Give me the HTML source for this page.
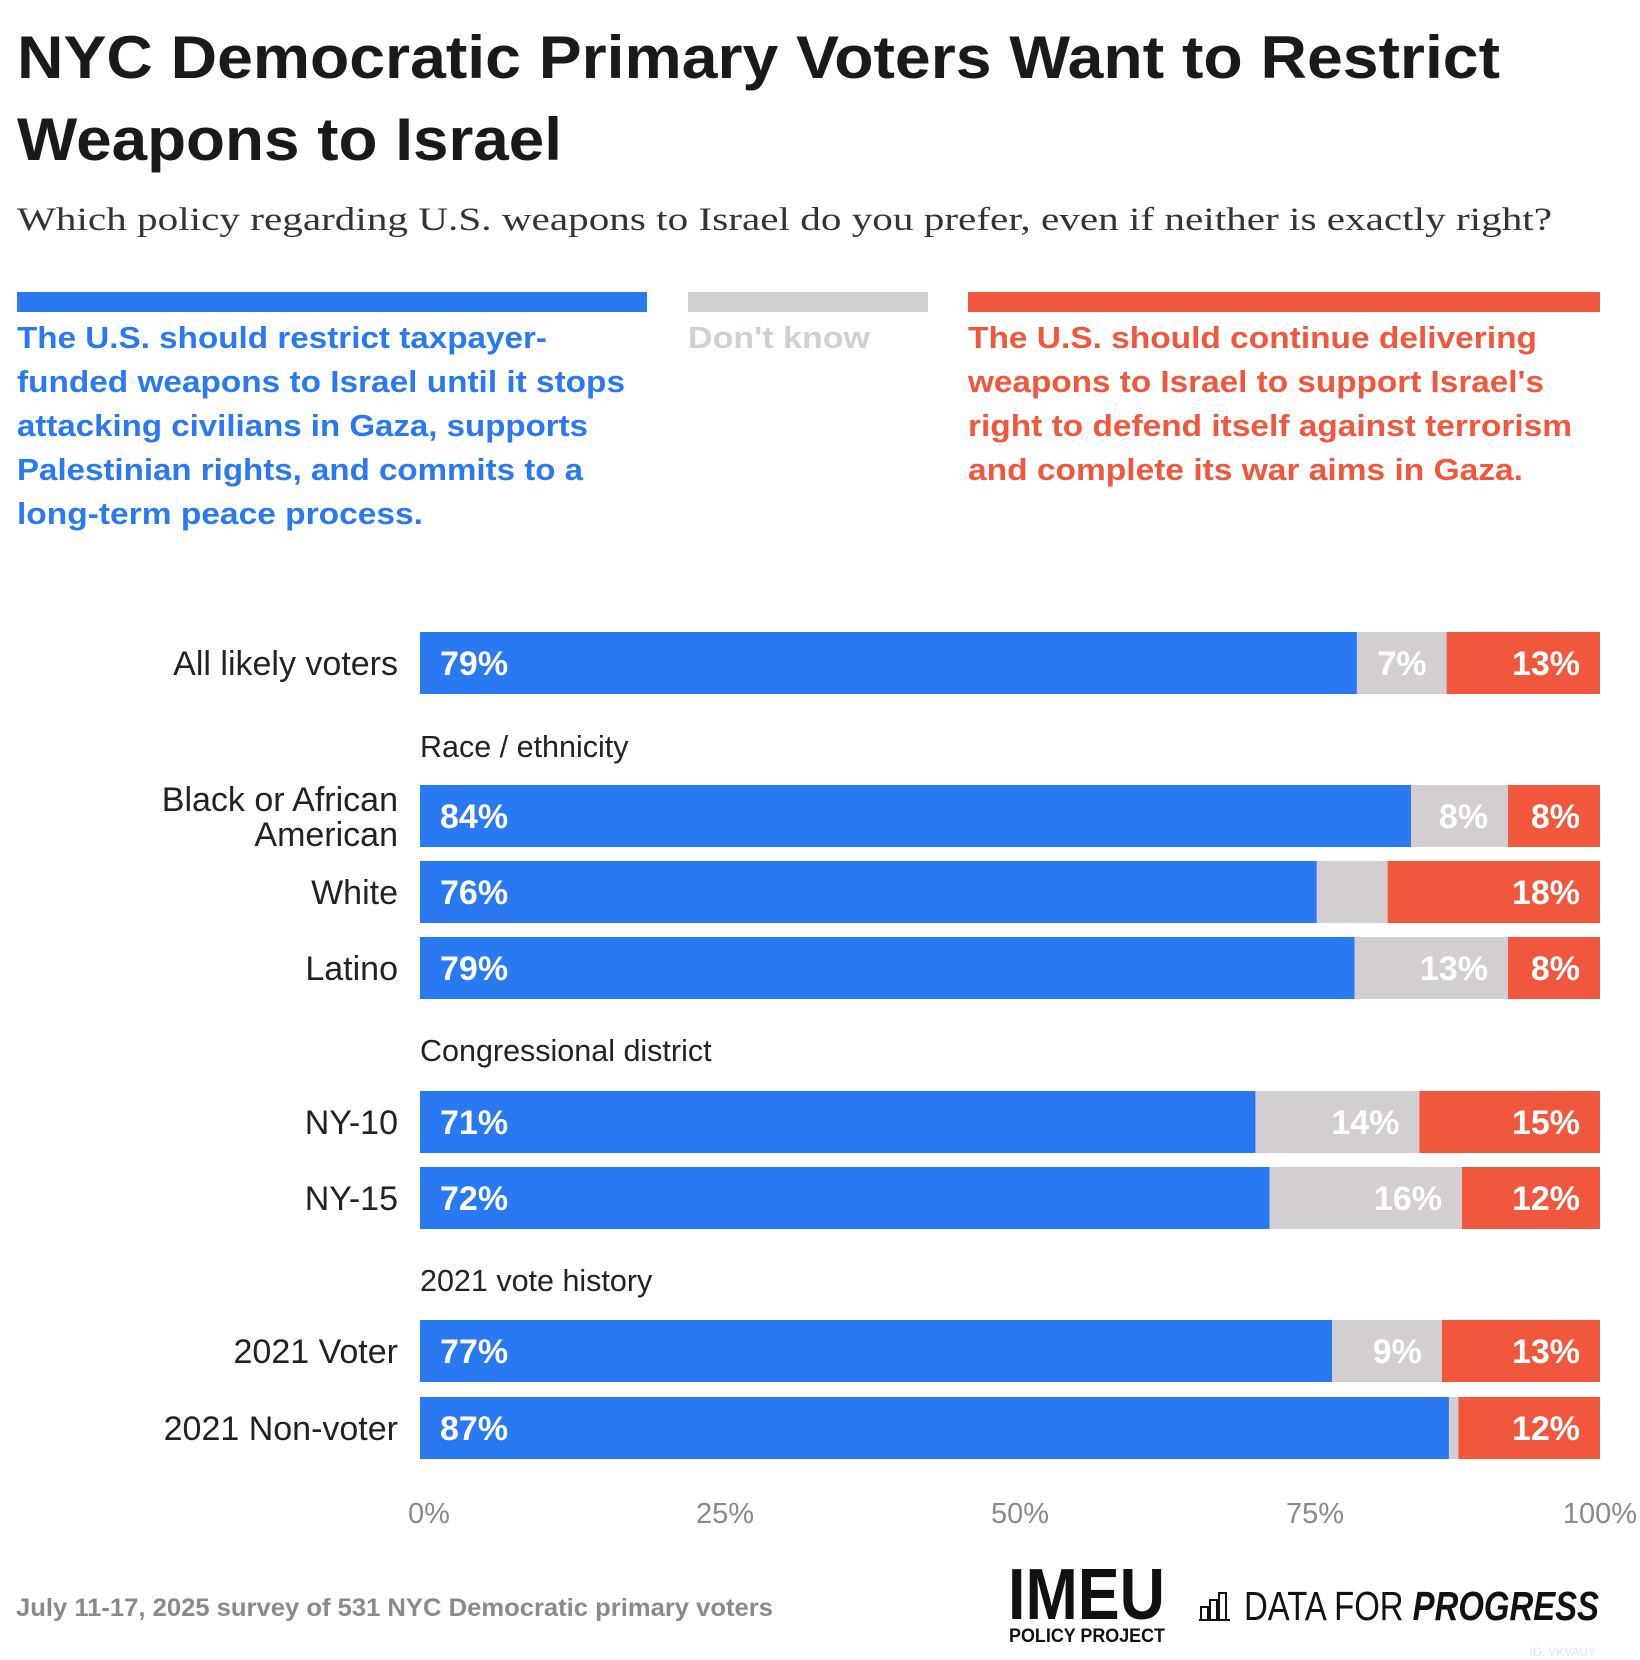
<!DOCTYPE html>
<html><head><meta charset="utf-8"><style>
html,body{margin:0;padding:0;background:#fff}
svg{display:block}
text{font-family:"Liberation Sans",sans-serif}
</style></head><body>
<svg id="chart" width="1640" height="1660" viewBox="0 0 1640 1660">
<text font-weight="bold" font-size="60" fill="#1a1a1a">
<tspan x="17" y="78" textLength="1483" lengthAdjust="spacingAndGlyphs">NYC Democratic Primary Voters Want to Restrict</tspan>
<tspan x="17" y="160" textLength="545" lengthAdjust="spacingAndGlyphs">Weapons to Israel</tspan></text>
<text x="17" y="230" font-size="33" fill="#333" style="font-family:'Liberation Serif',serif" textLength="1535" lengthAdjust="spacingAndGlyphs">Which policy regarding U.S. weapons to Israel do you prefer, even if neither is exactly right?</text>

<g>
<rect x="17" y="292" width="630" height="20" fill="#2979F2"/>
<rect x="688" y="292" width="240" height="20" fill="#D3CED2"/>
<rect x="968" y="292" width="632" height="20" fill="#F0573C"/>
<text font-weight="bold" font-size="31" fill="#2979F2">
<tspan x="17" y="348" textLength="530" lengthAdjust="spacingAndGlyphs">The U.S. should restrict taxpayer-</tspan>
<tspan x="17" y="392" textLength="608" lengthAdjust="spacingAndGlyphs">funded weapons to Israel until it stops</tspan>
<tspan x="17" y="436" textLength="571" lengthAdjust="spacingAndGlyphs">attacking civilians in Gaza, supports</tspan>
<tspan x="17" y="480" textLength="566" lengthAdjust="spacingAndGlyphs">Palestinian rights, and commits to a</tspan>
<tspan x="17" y="524" textLength="406" lengthAdjust="spacingAndGlyphs">long-term peace process.</tspan></text>
<text x="688" y="348" font-weight="bold" font-size="31" fill="#D3CED2" textLength="182" lengthAdjust="spacingAndGlyphs">Don't know</text>
<text font-weight="bold" font-size="31" fill="#F0573C">
<tspan x="968" y="348" textLength="569" lengthAdjust="spacingAndGlyphs">The U.S. should continue delivering</tspan>
<tspan x="968" y="392" textLength="576" lengthAdjust="spacingAndGlyphs">weapons to Israel to support Israel's</tspan>
<tspan x="968" y="436" textLength="604" lengthAdjust="spacingAndGlyphs">right to defend itself against terrorism</tspan>
<tspan x="968" y="480" textLength="555" lengthAdjust="spacingAndGlyphs">and complete its war aims in Gaza.</tspan></text>
</g>
<g id="bars"></g>
<g id="axis"></g>

<text x="16" y="1616" font-weight="bold" font-size="25" fill="#8a8a8a" textLength="757" lengthAdjust="spacingAndGlyphs">July 11-17, 2025 survey of 531 NYC Democratic primary voters</text>
<g>
<text x="1008" y="1619" font-weight="bold" font-size="72" fill="#111" textLength="157" lengthAdjust="spacingAndGlyphs">IMEU</text>
<text x="1009" y="1642" font-weight="bold" font-size="19" fill="#111" textLength="156" lengthAdjust="spacingAndGlyphs">POLICY PROJECT</text>
</g>
<g fill="none" stroke="#111" stroke-width="2">
<rect x="1201" y="1607" width="7" height="13"/><rect x="1210" y="1600" width="7" height="20"/><rect x="1219" y="1593" width="7" height="27"/>
<line x1="1199" y1="1620" x2="1230" y2="1620"/>
<text x="1244" y="1620" font-size="41" fill="#111" stroke="none" textLength="355" lengthAdjust="spacingAndGlyphs">DATA FOR <tspan font-weight="bold" font-style="italic">PROGRESS</tspan></text>
</g>
<text x="1596" y="1656" text-anchor="end" font-size="12" fill="#e4e4e4">ID: VKVAUY</text>
</svg>
<script>
const categories=["All likely voters","Black or African American","White","Latino","NY-10","NY-15","2021 Voter","2021 Non-voter"];
const restrictVals=[79.4,84,76,79.2,70.8,72,77.3,87.2];
const dontKnowVals=[7.6,8.2,6,13,13.9,16.3,9.3,0.8];
const continueVals=[13,7.8,18,7.8,15.3,11.7,13.4,12];
const restrictLabels=["79%","84%","76%","79%","71%","72%","77%","87%"];
const dontKnowLabels=["7%","8%","","13%","14%","16%","9%",""];
const continueLabels=["13%","8%","18%","8%","15%","12%","13%","12%"];
const groupTitles=["Race / ethnicity","Congressional district","2021 vote history"];
const tickVals=[0,25,50,75,100];
const tickLabels=["0%","25%","50%","75%","100%"];

const NS="http://www.w3.org/2000/svg";
const X0=420,X1=1600,BH=62;
const rowTops=[632,785,861,937,1091,1167,1320,1397];
const groupY=[757,1061,1291];
const xs=v=>X0+(X1-X0)*v/100;
function mk(tag,attrs,parent,txt){const e=document.createElementNS(NS,tag);for(const k in attrs)e.setAttribute(k,attrs[k]);if(txt!==undefined)e.textContent=txt;parent.appendChild(e);return e;}
const g=document.getElementById('bars');
groupTitles.forEach((t,i)=>{
  const e=mk('text',{x:X0,y:groupY[i],'font-size':30.5,fill:'#222'},g,t);
  
  
});
categories.forEach((c,i)=>{
  const y=rowTops[i];
  const tot=restrictVals[i]+dontKnowVals[i]+continueVals[i];
  const a=restrictVals[i]/tot*100,b=dontKnowVals[i]/tot*100;
  const r1=mk('rect',{x:xs(0),y:y,width:xs(a)-xs(0),height:BH,fill:'#2979F2'},g);
  
  
  const r2=mk('rect',{x:xs(a),y:y,width:xs(a+b)-xs(a),height:BH,fill:'#D3CED2'},g);
  
  
  const r3=mk('rect',{x:xs(a+b),y:y,width:xs(100)-xs(a+b),height:BH,fill:'#F0573C'},g);
  
  
  const ty=y+BH/2+12;
  const l1=mk('text',{x:xs(0)+20,y:ty,'font-size':34,'font-weight':'bold',fill:'#fff'},g,restrictLabels[i]);
  
  
  if(dontKnowLabels[i]){
    const l2=mk('text',{x:xs(a+b)-20,y:ty,'font-size':34,'font-weight':'bold',fill:'#fff','text-anchor':'end'},g,dontKnowLabels[i]);
    
    
  }
  const l3=mk('text',{x:xs(100)-20,y:ty,'font-size':34,'font-weight':'bold',fill:'#fff','text-anchor':'end'},g,continueLabels[i]);
  
  
  const lines=c==="Black or African American"?["Black or African","American"]:[c];
  const lab=mk('text',{'font-size':34,fill:'#222','text-anchor':'end'},g);
  
  
  lines.forEach((ln,j)=>{
    const base=lines.length===1?ty:y+BH/2-5+j*35;
    mk('tspan',{x:398,y:base},lab,ln);
  });
});
const ax=document.getElementById('axis');
tickVals.forEach((v,i)=>{
  const anchor=i===tickVals.length-1?'end':(i===0?'start':'middle');
  const x=i===tickVals.length-1?1637:(i===0?408:xs(v)+10);
  const t=mk('text',{x:x,y:1523,'font-size':29,fill:'#8a8a8a','text-anchor':anchor},ax,tickLabels[i]);
  
  
});
</script>
</body></html>
